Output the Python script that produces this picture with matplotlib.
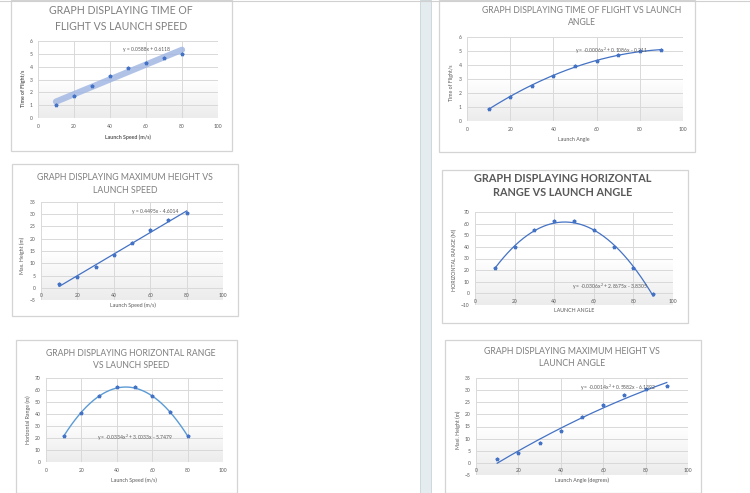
import numpy as np
import matplotlib
matplotlib.use("Agg")
import matplotlib.pyplot as plt
from matplotlib.patches import Rectangle
from matplotlib.colors import LinearSegmentedColormap

# data
speed_8 = [10, 20, 30, 40, 50, 60, 70, 80]
angle_9 = [10, 20, 30, 40, 50, 60, 70, 80, 90]

tof_speed = [1.0, 1.75, 2.5, 3.25, 3.92, 4.3, 4.7, 4.95]
tof_angle = [0.88, 1.73, 2.52, 3.24, 3.9, 4.29, 4.74, 5.0, 5.05]
hmax_speed = [1.7, 4.2, 8.3, 13.2, 18.4, 23.6, 27.7, 30.4]
range_angle = [21.5, 39.5, 54.2, 62.2, 62.2, 54.2, 39.5, 21.5, -0.3]
range_speed = [22.0, 40.7, 54.7, 62.2, 62.2, 54.7, 41.3, 22.0]
hmax_angle = [1.65, 4.0, 8.1, 13.2, 18.8, 23.9, 28.0, 30.3, 31.7]

eq_1 = "y = 0.0588x + 0.6118"
eq_2 = "y = -0.0006x$^2$ + 0.1086x - 0.211"
eq_3 = "y = 0.4495x - 4.6014"
eq_4 = "y = -0.0306x$^2$ + 2.8675x - 3.8305"
eq_5 = "y = -0.0334x$^2$ + 3.0033x - 5.7479"
eq_6 = "y = -0.0014x$^2$ + 0.5582x - 6.1392"

W, H = 750, 493
FONT = ["Lato", "DejaVu Sans"]
GRAY = "#595959"
BLUE = "#4472C4"

fig = plt.figure(figsize=(7.5, 4.93), dpi=100)
fig.patch.set_facecolor("white")


def fx(x):
    return x / W


def fy(y):
    return 1 - y / H


def box(x0, y0, x1, y1):
    fig.patches.append(Rectangle((fx(x0), fy(y1)), fx(x1 - x0), (y1 - y0) / H,
                                 transform=fig.transFigure, fill=False,
                                 edgecolor="#D4D4D4", lw=0.9))


def text(x, y, s, **kw):
    fig.text(fx(x), fy(y), s, ha="center", va="center", family=FONT, **kw)


grad = LinearSegmentedColormap.from_list("g", ["#FFFFFF", "#FFFFFF", "#ECECEC"])


def chart(px, xs, ys, ylim, ystep, deg, eq, eqpos, line_kw):
    x0, y0, x1, y1 = px
    ax = fig.add_axes([fx(x0), fy(y1), fx(x1 - x0), (y1 - y0) / H])
    ax.imshow(np.linspace(0, 1, 100).reshape(-1, 1), cmap=grad, aspect="auto",
              extent=[0, 1, 0, 1], transform=ax.transAxes, zorder=0)
    ax.set_xlim(0, 100)
    ax.set_ylim(*ylim)
    ax.set_xticks(range(0, 101, 20))
    ax.set_yticks(np.arange(ylim[0], ylim[1] + 0.01, ystep))
    ax.grid(True, color="#D9D9D9", lw=0.7, zorder=1)
    ax.set_axisbelow(True)
    for s in ax.spines.values():
        s.set_visible(False)
    # excel puts the category labels where the axis crosses zero
    ax.spines["bottom"].set_position(("data", 0))
    ax.tick_params(length=0, labelsize=3.6, labelcolor=GRAY, pad=4)
    for lab in ax.get_xticklabels() + ax.get_yticklabels():
        lab.set_family(FONT)
    # trendline fitted to the points
    coef = np.polyfit(xs, ys, deg)
    xt = np.linspace(min(xs), max(xs), 200)
    ax.plot(xt, np.polyval(coef, xt), zorder=3, **line_kw)
    ax.plot(xs, ys, ls="none", marker="*", ms=2.6, color=BLUE, zorder=4)
    ax.text(eqpos[0], eqpos[1], eq, ha="center", va="center", fontsize=3.6,
            color=GRAY, family=FONT, zorder=5)
    return ax


# page background
fig.patches.append(Rectangle((fx(420), 0), fx(11), 1, transform=fig.transFigure,
                             facecolor="#E4ECEF", edgecolor="#C9D3D7", lw=0.6))
fig.lines.append(plt.Line2D([0, 1], [fy(0.5), fy(0.5)], transform=fig.transFigure,
                            color="#D0D0D0", lw=0.8))

# panel borders
box(11, 0, 232, 151)
box(439, 0, 695, 152)
box(12, 164, 238, 316)
box(442, 170, 688, 323)
box(16, 340, 237, 493)
box(445, 340, 701, 493)

title_kw = dict(color="#7F7F7F", linespacing=1.45)

# 1 time of flight vs launch speed
chart((38, 41, 218, 118), speed_8, tof_speed, (0, 6), 1, 1, eq_1, (60, 5.35),
      dict(color="#9DB4E2", lw=4.5, alpha=0.8, solid_capstyle="round"))
text(121, 18.5, "GRAPH DISPLAYING TIME OF\nFLIGHT VS LAUNCH SPEED",
     fontsize=7.6, **title_kw)
text(128, 137, "Launch Speed (m/s)", fontsize=3.8, color=GRAY, weight="bold")
text(24, 88, "Time of Flight/s", fontsize=3.8, color=GRAY, weight="bold", rotation=90)

# 2 time of flight vs launch angle
chart((467, 37, 683, 121), angle_9, tof_angle, (0, 6), 1, 2, eq_2, (67, 5.0),
      dict(color=BLUE, lw=0.9))
text(582, 16.5, "GRAPH DISPLAYING TIME OF FLIGHT VS LAUNCH\nANGLE",
     fontsize=6.2, **title_kw)
text(574, 139, "Launch Angle", fontsize=3.8, color=GRAY)
text(452, 83, "Time of Flight/s", fontsize=3.8, color=GRAY, rotation=90)

# 3 maximum height vs launch speed
chart((41, 202, 223, 300), speed_8, hmax_speed, (-5, 35), 5, 1, eq_3, (63, 31),
      dict(color=BLUE, lw=0.9))
text(125, 184, "GRAPH DISPLAYING MAXIMUM HEIGHT VS\nLAUNCH SPEED",
     fontsize=6.35, **title_kw)
text(133, 305, "Launch Speed (m/s)", fontsize=3.8, color=GRAY)
text(22, 255, "Max. Height (m)", fontsize=3.8, color=GRAY, rotation=90)

# 4 horizontal range vs launch angle
chart((475, 212, 673, 305), angle_9, range_angle, (-10, 70), 10, 2, eq_4, (68, 6),
      dict(color=BLUE, lw=0.9))
text(563, 185.5, "GRAPH DISPLAYING HORIZONTAL\nRANGE VS LAUNCH ANGLE",
     fontsize=7.8, color="#595959", weight="bold", linespacing=1.35)
text(574, 310, "LAUNCH ANGLE", fontsize=3.8, color=GRAY)
text(454, 260, "HORIZONTAL RANGE (M)", fontsize=3.8, color=GRAY, rotation=90)

# 5 horizontal range vs launch speed
chart((46, 378, 223, 462), speed_8, range_speed, (0, 70), 10, 2, eq_5, (50, 20),
      dict(color="#5B9BD5", lw=1.0))
text(131, 359.5, "GRAPH DISPLAYING HORIZONTAL RANGE\nVS LAUNCH SPEED",
     fontsize=6.2, **title_kw)
text(134, 480, "Launch Speed (m/s)", fontsize=3.8, color=GRAY)
text(28, 420, "Horizontal Range (m)", fontsize=3.8, color=GRAY, rotation=90)

# 6 maximum height vs launch angle
chart((476, 378, 688, 475), angle_9, hmax_angle, (-5, 35), 5, 2, eq_6, (67, 31),
      dict(color=BLUE, lw=0.9))
text(572, 357.5, "GRAPH DISPLAYING MAXIMUM HEIGHT VS\nLAUNCH ANGLE",
     fontsize=6.3, **title_kw)
text(582, 480, "Launch Angle (degrees)", fontsize=3.8, color=GRAY)
text(458, 430, "Maxi. Height (m)", fontsize=3.8, color=GRAY, rotation=90)

fig.savefig("out.png", dpi=100)
